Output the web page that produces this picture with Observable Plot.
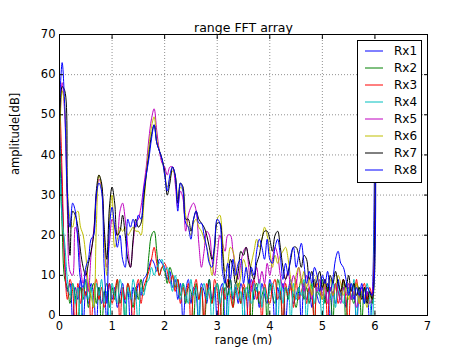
<!DOCTYPE html>
<html><head><meta charset="utf-8">
<script src="https://cdn.jsdelivr.net/npm/d3@7"></script>
<script src="https://cdn.jsdelivr.net/npm/@observablehq/plot@0.6"></script>
<style>
body{margin:0;background:#fff;font-family:"DejaVu Sans",sans-serif;}
#wrap{position:relative;width:474px;height:351px;}
#legend{position:absolute;left:357px;top:40px;}
</style></head><body><div id="wrap"></div>
<script>
const title = "range FFT array";
const xLabel = "range (m)";
const yLabel = "amplitude[dB]";
const seriesNames = ["Rx1","Rx2","Rx3","Rx4","Rx5","Rx6","Rx7","Rx8"];
const seriesColors = ["#0000ff","#008000","#ff0000","#00bfbf","#bf00bf","#bfbf00","#000000","#0000ff"];
const xTicks = [0,1,2,3,4,5,6,7];
const yTicks = [0,10,20,30,40,50,60,70];
const binWidth = 0.05; // metres per range bin

const rx1 = [50,30,14,6,8,-2,7,4,9,-3,
  6,3,8,5,-4,7,3,6,-2,8,
  4,7,2,5,8,3,6,-4,7,4,
  8,5,9,10,12,14,13,11,14,13,
  12,9,11,7,9,4,8,-2,6,9,
  3,7,5,-3,8,6,3,9,4,7,
  -2,6,8,-3,5,9,4,7,3,8,
  5,-4,6,9,4,7,2,8,5,3,
  9,6,-3,7,4,8,-2,6,9,3,
  5,7,-3,8,4,6,2,9,5,3,
  7,4,8,-3,6,3,9,5,7,2,
  6,4,8,-3,5,7,3,6,-2,5,
  58];
const rx2 = [45,22,9,7,3,8,5,-3,7,4,
  9,2,6,8,3,7,-4,5,8,2,
  7,4,9,3,6,-3,8,5,2,7,
  4,9,6,8,15,20,21,16,10,12,
  11,8,12,10,7,9,5,8,3,7,
  6,-2,8,4,7,-3,5,9,3,6,
  8,4,-3,7,5,9,2,6,8,3,
  7,4,9,-3,6,8,3,5,7,-2,
  8,5,3,9,6,-3,7,4,8,5,
  2,6,9,4,7,3,8,-3,6,5,
  9,3,7,5,-2,8,6,4,9,-3,
  7,5,3,8,6,-2,7,4,6,3,
  55];
const rx3 = [57,35,12,4,9,6,-4,8,3,7,
  5,8,-3,6,9,4,7,2,5,8,
  3,6,9,-3,7,4,8,5,-2,6,
  9,3,7,9,11,14,17,13,10,12,
  13,11,8,10,6,9,3,7,5,8,
  -3,6,9,4,7,-2,8,5,3,9,
  6,-3,7,4,9,5,2,8,6,3,
  8,5,-3,7,9,4,6,-2,8,5,
  3,7,9,4,6,-3,8,5,7,2,
  9,4,6,8,3,7,5,-3,8,6,
  4,9,-2,7,5,8,3,6,9,4,
  -2,7,5,9,3,6,8,4,7,5,
  57];
const rx4 = [37,24,18,9,5,8,3,7,-3,6,
  9,4,7,2,8,5,9,3,6,-4,
  8,5,3,9,6,-2,7,4,9,5,
  -3,7,5,8,9,12,10,12,13,14,
  11,12,9,6,10,7,4,8,6,3,
  9,5,7,-2,6,8,4,7,-3,5,
  8,3,6,9,-2,7,5,8,4,6,
  -3,7,5,3,8,6,9,2,7,4,
  6,8,5,-2,9,3,7,6,-3,8,
  4,7,5,9,-2,6,8,3,7,5,
  -3,8,6,4,9,2,7,5,3,8,
  6,4,9,-2,7,5,3,8,4,-2,
  50];
const rx5 = [45,58,50,26,11,10,22,20,12,8,
  11,6,15,21,29,34,32,20,12,18,
  24,22,20,26,28,24,17,12,18,23,
  24,27,32,37,44,49,51.5,46,41,38,
  37,35,37,37,33,27,31,29,21,25,
  27,28,26,18,12,16,21,20,14,10,
  15,20,18,16,20,20,16,12,9,13,
  16,17,12,6,9,12,8,11,8,13,
  10,14,17,15,10,7,9,11,7,10,
  8,12,9,6,10,7,4,8,6,9,
  5,8,3,7,5,8,6,3,7,5,
  8,4,6,2,5,7,4,6,3,5,
  60];
const rx6 = [42,56,52,32,24,22,25,26,22,20,
  15,8,5,2,22,35,32,19,10,24,
  30,17,19,22,21,22,20,21,22,21,
  21,20,27,35,42,47,49.5,44,41,39,
  35,32,34,36,35,29,32,31,25,22,
  20,23,24,22,21,19,17,14,10,16,
  24,25,19,11,13,17,16,11,7,10,
  14,12,9,13,16,19,17,19,22,20,
  16,12,15,13,15,16,17,14,9,6,
  10,12,8,11,7,9,5,8,10,7,
  4,8,6,9,5,7,10,8,5,7,
  4,7,5,8,3,6,5,2,5,4,
  61];
const rx7 = [40,57,56,30,15,26,25,22,16,12,
  10,13,16,20,31,35,33,22,14,27,
  32,28,20,21,25,20,14,12,19,24,
  22,23,29,35,40,45,47.5,43,41,39,
  36,30,33,37,35,28,33,32,24,24,
  21,24,26,24,23,22,20,17,14,17,
  23,23,16,9,7,14,12,8,11,16,
  15,17,14,11,9,13,15,19,21,21,
  19,16,20,21,17,12,9,11,14,17,
  17,15,12,15,14,9,11,7,9,11,
  7,9,6,10,8,11,8,6,9,7,
  10,6,8,5,7,4,7,3,6,4,
  62];
const rx8 = [52,63,52,30,22,28,26,18,9,7,
  12,14,19,20,30,33,31,12,3,22,
  27,22,17,20,14,12,24,22,24,22,
  25,24,31,35,39,44,47.5,43,41,39,
  35,31,35,37,35,26,33,31,23,22,
  19,24,26,23,23,20,17,13,12,18,
  24,23,11,8,13,9,14,10,13,14,
  8,12,8,12,10,16,19,17,14,19,
  14,13,17,19,15,9,13,10,15,17,
  12,15,18,13,8,11,8,12,10,6,
  10,8,11,6,9,14,16,13,12,9,
  5,8,4,7,5,8,3,7,6,5,
  64];

const allSeries = [rx1, rx2, rx3, rx4, rx5, rx6, rx7, rx8];
const rows = allSeries.flatMap((vals, s) =>
  vals.map((v, i) => ({range: i * binWidth, amp: v, rx: seriesNames[s]})));

const gridStyle = {stroke: "#000", strokeOpacity: 0.55, strokeDasharray: "1,2", strokeWidth: 0.8};

const chart = Plot.plot({
  width: 474, height: 351,
  marginLeft: 59, marginRight: 47, marginTop: 34, marginBottom: 36,
  style: {fontFamily: "'DejaVu Sans', sans-serif", fontSize: "11.5px", background: "#fff", color: "#000"},
  x: {domain: [0, 7]},
  y: {domain: [0, 70]},
  color: {domain: seriesNames, range: seriesColors},
  marks: [
    Plot.gridX(xTicks, gridStyle),
    Plot.gridY(yTicks, gridStyle),
    Plot.line(rows, {x: "range", y: "amp", z: "rx", stroke: "rx", strokeWidth: 1, curve: "catmull-rom", clip: true}),
    Plot.frame({stroke: "#000", strokeWidth: 1}),
    Plot.axisX(xTicks, {anchor: "bottom", tickSize: 0, tickPadding: 6, label: null}),
    Plot.axisY(yTicks, {anchor: "left", tickSize: 0, tickPadding: 4, label: null}),
    Plot.axisX(xTicks, {anchor: "bottom", tickSize: -4, fill: "none", label: null}),
    Plot.axisX(xTicks, {anchor: "top", tickSize: -4, fill: "none", label: null}),
    Plot.axisY(yTicks, {anchor: "left", tickSize: -4, fill: "none", label: null}),
    Plot.axisY(yTicks, {anchor: "right", tickSize: -4, fill: "none", label: null}),
    Plot.text([title], {frameAnchor: "top", lineAnchor: "middle", dy: -7, fontSize: 12.5, text: d => d}),
    Plot.text([xLabel], {frameAnchor: "bottom", lineAnchor: "middle", dy: 25, fontSize: 11.5, text: d => d}),
    Plot.text([yLabel], {frameAnchor: "left", dx: -44, rotate: -90, fontSize: 11.5, text: d => d})
  ]
});
document.getElementById("wrap").appendChild(chart);

// legend
const lg = d3.create("svg").attr("id", "legend").attr("width", 66).attr("height", 144)
  .style("font-family", "'DejaVu Sans', sans-serif").style("font-size", "12px");
lg.append("rect").attr("x", 0.5).attr("y", 0.5).attr("width", 64).attr("height", 142)
  .attr("fill", "#fff").attr("stroke", "#000");
seriesNames.forEach((name, i) => {
  const yy = 11 + i * 17;
  lg.append("line").attr("x1", 8).attr("x2", 26).attr("y1", yy).attr("y2", yy)
    .attr("stroke", seriesColors[i]).attr("stroke-width", 1);
  lg.append("text").attr("x", 37).attr("y", yy).attr("dy", "0.35em").text(name);
});
document.getElementById("wrap").appendChild(lg.node());
</script></body></html>
